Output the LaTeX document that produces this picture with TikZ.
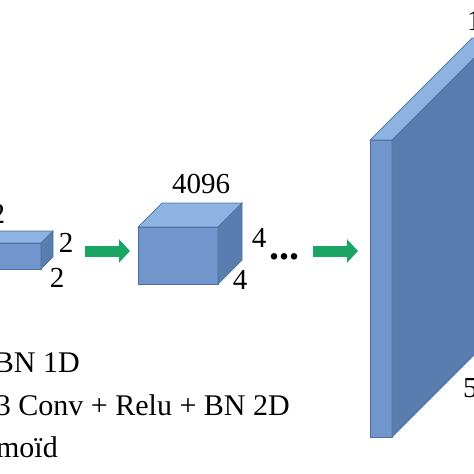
\documentclass[tikz,border=0pt]{standalone}
\usepackage{fontspec}
\setmainfont{Liberation Serif}
\usepackage{tikz}
\usetikzlibrary{arrows.meta}

\definecolor{facefront}{RGB}{112,150,204}
\definecolor{facetop}{RGB}{141,179,226}
\definecolor{faceside}{RGB}{90,125,176}
\definecolor{faceedge}{RGB}{78,112,160}
\definecolor{flowgreen}{RGB}{26,165,100}

% x y width height depth
\newcommand{\cuboid}[5]{%
  \filldraw[front] (#1,#2) rectangle ++(#3,#4);
  \filldraw[top] (#1,#2) -- ++(#5,-#5) -- ++(#3,0) -- ++(-#5,#5) -- cycle;
  \filldraw[side] (#1+#3,#2) -- ++(#5,-#5) -- ++(0,#4) -- ++(-#5,#5) -- cycle;
}

\begin{document}
\begin{tikzpicture}[x=1pt, y=-1pt,
    front/.style = { fill = facefront, draw = faceedge, line width = .7pt },
    top/.style = { fill = facetop, draw = faceedge, line width = .7pt },
    side/.style = { fill = faceside, draw = faceedge, line width = .7pt },
    num/.style = { font = \fontsize{29}{34}\selectfont, inner sep = 0 },
    legend/.style = { font = \fontsize{30}{36}\selectfont, inner sep = 0 },
    flow/.style = { draw = flowgreen, line width = 11pt,
      -{Triangle[width = 23pt, length = 11pt]} }]
    \clip (0,0) rectangle (474,474);

    \cuboid{-40}{243}{81}{26}{12}
    \cuboid{138}{227}{80}{57}{24}
    \cuboid{370}{140}{22}{297}{102}

    \node [num] (d1a) at (-2,214) {2};
    \node [num] (d1b) at (66,243) {2};
    \node [num] (d1c) at (57,278) {2};

    \node [num] (d2a) at (201,184) {4096};
    \node [num] (d2b) at (259,238) {4};
    \node [num] (d2c) at (240,280) {4};
    \node [num, font = \fontsize{40}{44}\selectfont\bfseries, anchor = base]
      (dots) at (284,259) {...};

    \node [num, anchor = base west] (d3a) at (467,30) {1};
    \node [num, anchor = base west] (d3b) at (463,397) {5};

    \coordinate (f1s) at (85,251);
    \coordinate (f1e) at (130,251);
    \coordinate (f2s) at (313,251);
    \coordinate (f2e) at (358,251);
    \draw [flow] (f1s) -- (f1e);
    \draw [flow] (f2s) -- (f2e);

    \node [legend, anchor = base east] (l1) at (80,372) {BN 1D};
    \node [legend, anchor = base east] (l2) at (290,415) {3 Conv + Relu + BN 2D};
    \node [legend, anchor = base east] (l3) at (58,457) {moïd};
\end{tikzpicture}
\end{document}
